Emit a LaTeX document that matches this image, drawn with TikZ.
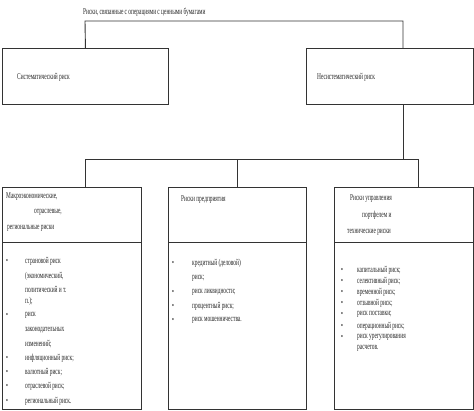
\documentclass[tikz,border=0pt]{standalone}
\usepackage{fontspec}
\newfontfamily\nf[FakeStretch=0.6]{Liberation Serif}
\begin{document}
\begin{tikzpicture}[x=1pt,y=-1pt,
  box/.style={draw=black!80, line width=0.9pt, inner sep=0, anchor=north west},
  conn/.style={draw=black!80, line width=0.9pt},
  txt/.style={anchor=west, inner sep=0, font=\nf\fontsize{9}{10}\selectfont, text=black!85},
  bul/.style={anchor=west, inner sep=0, font=\nf\fontsize{9}{10}\selectfont, text=black!85}]
\useasboundingbox (0,0) rectangle (474,410);
% title
\node[txt] (title) at (83,12) {Риски, связанные с операциями с ценными бумагами};
% level 1 boxes
\node[box, minimum width=166pt, minimum height=56pt] (sys) at (2,48) {};
\node[box, minimum width=167pt, minimum height=56pt] (unsys) at (306,48) {};
\node[txt] (systxt) at (17,77) {Систематический риск};
\node[txt] (unsystxt) at (317,77) {Несистематический риск};
% level 2 boxes
\node[box, minimum width=139pt, minimum height=222pt] (b1) at (2,187) {};
\node[box, minimum width=138pt, minimum height=222pt] (b2) at (168,187) {};
\node[box, minimum width=139pt, minimum height=222pt] (b3) at (334,187) {};
\foreach \b in {b1,b2,b3}{\draw[conn] (\b.west |- 0,242) -- (\b.east |- 0,242);}
% connectors
\coordinate (tl) at (85,21);
\coordinate (tr) at (403,21);
\draw[conn] (sys.north) -- (tl) -- (tr) -- (tr |- unsys.north);
\coordinate (ud) at (403,104);
\coordinate (jm) at (403,159);
\coordinate (jl) at (85,159);
\coordinate (jr) at (418,159);
\draw[conn] (ud) -- (jm);
\draw[conn] (jl) -- (jr);
\draw[conn] (jl) -- (jl |- b1.north);
\draw[conn] (b2.north |- jl) -- (b2.north);
\draw[conn] (jr) -- (jr |- b3.north);
% box 1 text
\node[txt] (h1a) at (6,197) {Макроэкономические,};
\node[txt] (h1b) at (34,212) {отраслевые,};
\node[txt] (h1c) at (7,228) {региональные риски};
\node[txt] (i1a) at (25,261) {страновой риск};
\node[txt] (i1b) at (25,276) {(экономический,};
\node[txt] (i1c) at (25,289) {политический и т.};
\node[txt] (i1d) at (25,301) {п.);};
\node[txt] (i1e) at (25,315) {риск};
\node[txt] (i1f) at (25,330) {законодательных};
\node[txt] (i1g) at (25,344) {изменений;};
\node[txt] (i1h) at (25,358) {инфляционный риск;};
\node[txt] (i1i) at (25,372) {валютный риск;};
\node[txt] (i1j) at (25,386) {отраслевой риск;};
\node[txt] (i1k) at (25,401) {региональный риск.};
\foreach \y [count=\k] in {261,315,358,372,386,401}{\node[bul] (p1\k) at (6,\y) {•};}
% box 2 text
\node[txt] (h2) at (181,200) {Риски предприятия};
\node[txt] (i2a) at (192,263) {кредитный (деловой)};
\node[txt] (i2b) at (192,278) {риск;};
\node[txt] (i2c) at (192,292) {риск ликвидности;};
\node[txt] (i2d) at (192,306) {процентный риск;};
\node[txt] (i2e) at (192,320) {риск мошенничества.};
\foreach \y [count=\k] in {263,292,306,320}{\node[bul] (p2\k) at (172,\y) {•};}
% box 3 text
\node[txt] (h3a) at (350,199) {Риски управления};
\node[txt] (h3b) at (362,215) {портфелем и};
\node[txt] (h3c) at (347,232) {технические риски};
\node[txt] (i3a) at (357,270) {капитальный риск;};
\node[txt] (i3b) at (357,281) {селективный риск;};
\node[txt] (i3c) at (357,292) {временной риск;};
\node[txt] (i3d) at (357,303) {отзывной риск;};
\node[txt] (i3e) at (357,314) {риск поставки;};
\node[txt] (i3f) at (357,326) {операционный риск;};
\node[txt] (i3g) at (357,337) {риск урегулирования};
\node[txt] (i3h) at (357,348) {расчетов.};
\foreach \y [count=\k] in {270,281,292,303,314,326,337}{\node[bul] (p3\k) at (341,\y) {•};}
\end{tikzpicture}
\end{document}
